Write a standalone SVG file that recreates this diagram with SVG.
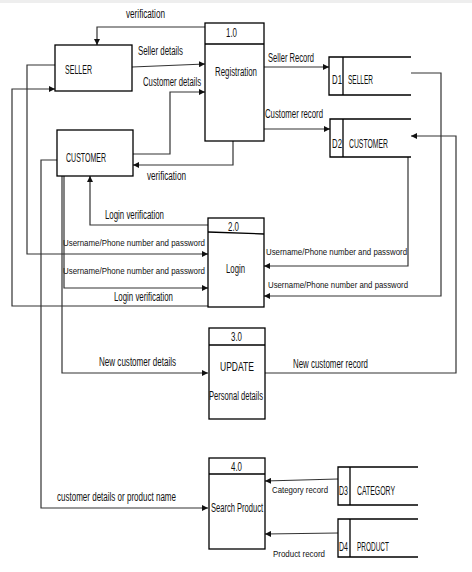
<svg xmlns="http://www.w3.org/2000/svg" width="472" height="572" viewBox="0 0 472 572">
<style>
.bx{fill:#fff;stroke:#000;stroke-width:1.3}
.ln{fill:none;stroke:#000;stroke-width:1.3}
.cn{fill:none;stroke:#333;stroke-width:1.2;marker-end:url(#ah)}
text{font-family:"Liberation Sans",Arial,sans-serif;font-size:12px;fill:#111}
.big{font-size:13px}
.sm{font-size:9px}
.sm2{font-size:9.5px}
</style>
<defs>
<marker id="ah" markerUnits="userSpaceOnUse" markerWidth="6" markerHeight="6" refX="6" refY="3" orient="auto">
<path d="M0,0 L6,3 L0,6 z" fill="#111"/>
</marker>
</defs>
<rect x="0" y="0" width="472" height="572" fill="#fff"/>
<rect x="0" y="0" width="472" height="3" fill="#eeeeee"/>

<g id="connectors">
<path class="cn" d="M205,27 H97 V45"/>
<path class="cn" d="M132,67 L205,64"/>
<path class="cn" d="M133,154 H170 V92 H205"/>
<path class="cn" d="M233,141 V165 H133"/>
<path class="cn" d="M264,67 H329"/>
<path class="cn" d="M264,129 H330"/>
<path class="cn" d="M55,65 H27 V254 H208"/>
<path class="cn" d="M208,306 H12 V89 H55"/>
<path class="cn" d="M208,225 H90 V176"/>
<path class="cn" d="M64,176 V288 H208"/>
<path class="cn" d="M62,176 V373 H208"/>
<path class="cn" d="M57,160 H41 V508 H208"/>
<path class="cn" d="M408,157 V266 H264"/>
<path class="cn" d="M411,73 H441 V296 H264"/>
<path class="cn" d="M265,373 H456 V136 H411"/>
<path class="cn" d="M338,479 L265,481"/>
<path class="cn" d="M338,533 L265,534"/>
<text x="126" y="18" textLength="39" lengthAdjust="spacingAndGlyphs">verification</text>
<text x="138" y="55" textLength="45" lengthAdjust="spacingAndGlyphs">Seller details</text>
<text x="143" y="86" textLength="58" lengthAdjust="spacingAndGlyphs">Customer details</text>
<text x="147" y="180" textLength="39" lengthAdjust="spacingAndGlyphs">verification</text>
<text x="268" y="62" textLength="46" lengthAdjust="spacingAndGlyphs">Seller Record</text>
<text x="265" y="118" textLength="58" lengthAdjust="spacingAndGlyphs">Customer record</text>
<text x="105" y="219" textLength="59" lengthAdjust="spacingAndGlyphs">Login verification</text>
<text class="sm" x="63" y="246" textLength="142" lengthAdjust="spacingAndGlyphs">Username/Phone number and password</text>
<text class="sm" x="63" y="274" textLength="142" lengthAdjust="spacingAndGlyphs">Username/Phone number and password</text>
<text x="114" y="301" textLength="59" lengthAdjust="spacingAndGlyphs">Login verification</text>
<text class="sm" x="266" y="255" textLength="141" lengthAdjust="spacingAndGlyphs">Username/Phone number and password</text>
<text class="sm" x="268" y="288" textLength="140" lengthAdjust="spacingAndGlyphs">Username/Phone number and password</text>
<text x="99" y="366" textLength="77" lengthAdjust="spacingAndGlyphs">New customer details</text>
<text x="293" y="368" textLength="75" lengthAdjust="spacingAndGlyphs">New customer record</text>
<text x="57" y="501" textLength="119" lengthAdjust="spacingAndGlyphs">customer details or product name</text>
<text class="sm" x="272" y="493" textLength="56" lengthAdjust="spacingAndGlyphs">Category record</text>
<text class="sm2" x="273" y="557" textLength="52" lengthAdjust="spacingAndGlyphs">Product record</text>
</g>

<g id="seller">
<rect class="bx" x="55" y="45" width="77" height="46"/>
<text class="big" x="65" y="74" textLength="27" lengthAdjust="spacingAndGlyphs">SELLER</text>
</g>
<g id="customer">
<rect class="bx" x="57" y="130" width="76" height="46"/>
<text class="big" x="66" y="162" textLength="40" lengthAdjust="spacingAndGlyphs">CUSTOMER</text>
</g>

<g id="p1">
<rect class="bx" x="205" y="23" width="59" height="118"/>
<line class="ln" x1="205" y1="44" x2="264" y2="44"/>
<text x="226" y="37" textLength="11" lengthAdjust="spacingAndGlyphs">1.0</text>
<text x="215" y="76" textLength="42" lengthAdjust="spacingAndGlyphs">Registration</text>
</g>
<g id="p2">
<rect class="bx" x="208" y="218" width="56" height="89"/>
<line class="ln" x1="208" y1="232" x2="264" y2="234"/>
<text x="228" y="231" textLength="11" lengthAdjust="spacingAndGlyphs">2.0</text>
<text x="226" y="273" textLength="19" lengthAdjust="spacingAndGlyphs">Login</text>
</g>
<g id="p3">
<rect class="bx" x="209" y="328" width="56" height="91"/>
<line class="ln" x1="209" y1="345" x2="265" y2="345"/>
<text x="231" y="341" textLength="11" lengthAdjust="spacingAndGlyphs">3.0</text>
<text x="220" y="371" textLength="34" lengthAdjust="spacingAndGlyphs">UPDATE</text>
<text x="209" y="400" textLength="54" lengthAdjust="spacingAndGlyphs">Personal details</text>
</g>
<g id="p4">
<rect class="bx" x="209" y="458" width="56" height="91"/>
<line class="ln" x1="209" y1="474" x2="265" y2="474"/>
<text x="231" y="471" textLength="11" lengthAdjust="spacingAndGlyphs">4.0</text>
<text x="211" y="512" textLength="52" lengthAdjust="spacingAndGlyphs">Search Product</text>
</g>

<g id="d1">
<path class="ln" d="M411,57 H329 V95 H411 M343,57 V95"/>
<text class="big" x="332" y="84" textLength="10" lengthAdjust="spacingAndGlyphs">D1</text>
<text class="big" x="348" y="84" textLength="25" lengthAdjust="spacingAndGlyphs">SELLER</text>
</g>
<g id="d2">
<path class="ln" d="M411,119 H330 V157 H411 M343,119 V157"/>
<text class="big" x="332" y="148" textLength="10" lengthAdjust="spacingAndGlyphs">D2</text>
<text class="big" x="349" y="148" textLength="39" lengthAdjust="spacingAndGlyphs">CUSTOMER</text>
</g>
<g id="d3">
<path class="ln" d="M418,467 H338 V505 H418 M350,467 V505"/>
<text class="big" x="339" y="495" textLength="9" lengthAdjust="spacingAndGlyphs">D3</text>
<text class="big" x="357" y="495" textLength="38" lengthAdjust="spacingAndGlyphs">CATEGORY</text>
</g>
<g id="d4">
<path class="ln" d="M418,519 H338 V557 H418 M350,519 V557"/>
<text class="big" x="339" y="551" textLength="9" lengthAdjust="spacingAndGlyphs">D4</text>
<text class="big" x="357" y="551" textLength="32" lengthAdjust="spacingAndGlyphs">PRODUCT</text>
</g>
</svg>
